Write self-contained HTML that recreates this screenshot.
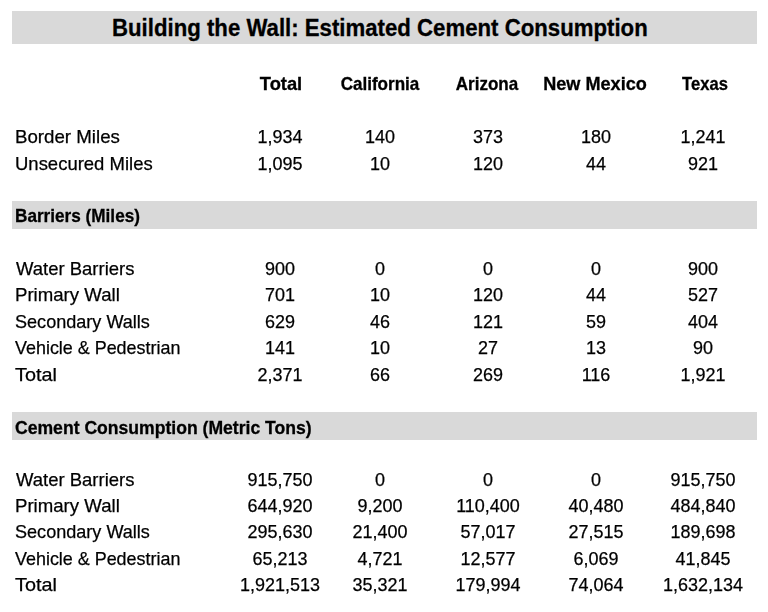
<!DOCTYPE html>
<html><head><meta charset="utf-8"><style>
html,body{margin:0;padding:0;background:#fff;width:768px;height:612px;overflow:hidden}
#w{position:absolute;left:0;top:0;width:768px;height:612px;filter:blur(0.45px)}
.t{-webkit-text-stroke:0.25px #000}
.b{-webkit-text-stroke:0.3px #000}
.bar{position:absolute;background:#d9d9d9}
.t{position:absolute;white-space:nowrap;line-height:0;font-family:"Liberation Sans",sans-serif;color:#000}
</style></head><body><div id="w">
<div class="bar" style="left:12px;top:11px;width:745px;height:33px"></div>
<div class="bar" style="left:12px;top:201px;width:745px;height:28px"></div>
<div class="bar" style="left:12px;top:412px;width:745px;height:28px"></div>
<div class="t b" style="left:111.97px;top:28.00px;font-size:23.5px;font-weight:bold;transform:scaleX(0.9447);transform-origin:0 0">Building the Wall: Estimated Cement Consumption</div>
<div class="t b" style="left:280.60px;top:84.00px;font-size:17.8px;font-weight:bold;transform:translateX(-50%) scaleX(1.0300);transform-origin:50% 0">Total</div>
<div class="t b" style="left:379.65px;top:84.00px;font-size:17.8px;font-weight:bold;transform:translateX(-50%) scaleX(0.9595);transform-origin:50% 0">California</div>
<div class="t b" style="left:486.98px;top:84.00px;font-size:17.8px;font-weight:bold;transform:translateX(-50%) scaleX(0.9577);transform-origin:50% 0">Arizona</div>
<div class="t b" style="left:594.95px;top:84.00px;font-size:17.8px;font-weight:bold;transform:translateX(-50%) scaleX(1.0180);transform-origin:50% 0">New Mexico</div>
<div class="t b" style="left:704.55px;top:84.00px;font-size:17.8px;font-weight:bold;transform:translateX(-50%) scaleX(0.9320);transform-origin:50% 0">Texas</div>
<div class="t" style="left:15.08px;top:137.00px;font-size:18.4px;transform:scaleX(1.0163);transform-origin:0 0">Border Miles</div>
<div class="t" style="left:279.64px;top:137.00px;font-size:18.4px;transform:translateX(-50%) scaleX(0.9775);transform-origin:50% 0">1,934</div>
<div class="t" style="left:380.19px;top:137.00px;font-size:18.4px;transform:translateX(-50%) scaleX(0.9775);transform-origin:50% 0">140</div>
<div class="t" style="left:487.98px;top:137.00px;font-size:18.4px;transform:translateX(-50%) scaleX(0.9775);transform-origin:50% 0">373</div>
<div class="t" style="left:595.73px;top:137.00px;font-size:18.4px;transform:translateX(-50%) scaleX(0.9775);transform-origin:50% 0">180</div>
<div class="t" style="left:703.12px;top:137.00px;font-size:18.4px;transform:translateX(-50%) scaleX(0.9775);transform-origin:50% 0">1,241</div>
<div class="t" style="left:14.79px;top:164.00px;font-size:18.4px;transform:scaleX(1.0052);transform-origin:0 0">Unsecured Miles</div>
<div class="t" style="left:279.64px;top:164.00px;font-size:18.4px;transform:translateX(-50%) scaleX(0.9775);transform-origin:50% 0">1,095</div>
<div class="t" style="left:380.19px;top:164.00px;font-size:18.4px;transform:translateX(-50%) scaleX(0.9775);transform-origin:50% 0">10</div>
<div class="t" style="left:487.98px;top:164.00px;font-size:18.4px;transform:translateX(-50%) scaleX(0.9775);transform-origin:50% 0">120</div>
<div class="t" style="left:595.73px;top:164.00px;font-size:18.4px;transform:translateX(-50%) scaleX(0.9775);transform-origin:50% 0">44</div>
<div class="t" style="left:703.12px;top:164.00px;font-size:18.4px;transform:translateX(-50%) scaleX(0.9775);transform-origin:50% 0">921</div>
<div class="t" style="left:15.75px;top:269.00px;font-size:18.4px;transform:scaleX(1.0047);transform-origin:0 0">Water Barriers</div>
<div class="t" style="left:279.64px;top:269.00px;font-size:18.4px;transform:translateX(-50%) scaleX(0.9775);transform-origin:50% 0">900</div>
<div class="t" style="left:380.19px;top:269.00px;font-size:18.4px;transform:translateX(-50%) scaleX(0.9775);transform-origin:50% 0">0</div>
<div class="t" style="left:487.98px;top:269.00px;font-size:18.4px;transform:translateX(-50%) scaleX(0.9775);transform-origin:50% 0">0</div>
<div class="t" style="left:595.73px;top:269.00px;font-size:18.4px;transform:translateX(-50%) scaleX(0.9775);transform-origin:50% 0">0</div>
<div class="t" style="left:703.12px;top:269.00px;font-size:18.4px;transform:translateX(-50%) scaleX(0.9775);transform-origin:50% 0">900</div>
<div class="t" style="left:14.98px;top:295.00px;font-size:18.4px;transform:scaleX(1.0119);transform-origin:0 0">Primary Wall</div>
<div class="t" style="left:279.64px;top:295.00px;font-size:18.4px;transform:translateX(-50%) scaleX(0.9775);transform-origin:50% 0">701</div>
<div class="t" style="left:380.19px;top:295.00px;font-size:18.4px;transform:translateX(-50%) scaleX(0.9775);transform-origin:50% 0">10</div>
<div class="t" style="left:487.98px;top:295.00px;font-size:18.4px;transform:translateX(-50%) scaleX(0.9775);transform-origin:50% 0">120</div>
<div class="t" style="left:595.73px;top:295.00px;font-size:18.4px;transform:translateX(-50%) scaleX(0.9775);transform-origin:50% 0">44</div>
<div class="t" style="left:703.12px;top:295.00px;font-size:18.4px;transform:translateX(-50%) scaleX(0.9775);transform-origin:50% 0">527</div>
<div class="t" style="left:14.81px;top:322.00px;font-size:18.4px;transform:scaleX(0.9824);transform-origin:0 0">Secondary Walls</div>
<div class="t" style="left:279.64px;top:322.00px;font-size:18.4px;transform:translateX(-50%) scaleX(0.9775);transform-origin:50% 0">629</div>
<div class="t" style="left:380.19px;top:322.00px;font-size:18.4px;transform:translateX(-50%) scaleX(0.9775);transform-origin:50% 0">46</div>
<div class="t" style="left:487.98px;top:322.00px;font-size:18.4px;transform:translateX(-50%) scaleX(0.9775);transform-origin:50% 0">121</div>
<div class="t" style="left:595.73px;top:322.00px;font-size:18.4px;transform:translateX(-50%) scaleX(0.9775);transform-origin:50% 0">59</div>
<div class="t" style="left:703.12px;top:322.00px;font-size:18.4px;transform:translateX(-50%) scaleX(0.9775);transform-origin:50% 0">404</div>
<div class="t" style="left:15.45px;top:348.00px;font-size:18.4px;transform:scaleX(0.9745);transform-origin:0 0">Vehicle &amp; Pedestrian</div>
<div class="t" style="left:279.64px;top:348.00px;font-size:18.4px;transform:translateX(-50%) scaleX(0.9775);transform-origin:50% 0">141</div>
<div class="t" style="left:380.19px;top:348.00px;font-size:18.4px;transform:translateX(-50%) scaleX(0.9775);transform-origin:50% 0">10</div>
<div class="t" style="left:487.98px;top:348.00px;font-size:18.4px;transform:translateX(-50%) scaleX(0.9775);transform-origin:50% 0">27</div>
<div class="t" style="left:595.73px;top:348.00px;font-size:18.4px;transform:translateX(-50%) scaleX(0.9775);transform-origin:50% 0">13</div>
<div class="t" style="left:703.12px;top:348.00px;font-size:18.4px;transform:translateX(-50%) scaleX(0.9775);transform-origin:50% 0">90</div>
<div class="t" style="left:14.88px;top:375.00px;font-size:18.4px;transform:scaleX(1.0773);transform-origin:0 0">Total</div>
<div class="t" style="left:279.64px;top:375.00px;font-size:18.4px;transform:translateX(-50%) scaleX(0.9775);transform-origin:50% 0">2,371</div>
<div class="t" style="left:380.19px;top:375.00px;font-size:18.4px;transform:translateX(-50%) scaleX(0.9775);transform-origin:50% 0">66</div>
<div class="t" style="left:487.98px;top:375.00px;font-size:18.4px;transform:translateX(-50%) scaleX(0.9775);transform-origin:50% 0">269</div>
<div class="t" style="left:595.73px;top:375.00px;font-size:18.4px;transform:translateX(-50%) scaleX(0.9775);transform-origin:50% 0">116</div>
<div class="t" style="left:703.12px;top:375.00px;font-size:18.4px;transform:translateX(-50%) scaleX(0.9775);transform-origin:50% 0">1,921</div>
<div class="t" style="left:15.75px;top:480.00px;font-size:18.4px;transform:scaleX(1.0047);transform-origin:0 0">Water Barriers</div>
<div class="t" style="left:279.64px;top:480.00px;font-size:18.4px;transform:translateX(-50%) scaleX(0.9775);transform-origin:50% 0">915,750</div>
<div class="t" style="left:380.19px;top:480.00px;font-size:18.4px;transform:translateX(-50%) scaleX(0.9775);transform-origin:50% 0">0</div>
<div class="t" style="left:487.98px;top:480.00px;font-size:18.4px;transform:translateX(-50%) scaleX(0.9775);transform-origin:50% 0">0</div>
<div class="t" style="left:595.73px;top:480.00px;font-size:18.4px;transform:translateX(-50%) scaleX(0.9775);transform-origin:50% 0">0</div>
<div class="t" style="left:703.12px;top:480.00px;font-size:18.4px;transform:translateX(-50%) scaleX(0.9775);transform-origin:50% 0">915,750</div>
<div class="t" style="left:14.98px;top:506.00px;font-size:18.4px;transform:scaleX(1.0119);transform-origin:0 0">Primary Wall</div>
<div class="t" style="left:279.64px;top:506.00px;font-size:18.4px;transform:translateX(-50%) scaleX(0.9775);transform-origin:50% 0">644,920</div>
<div class="t" style="left:380.19px;top:506.00px;font-size:18.4px;transform:translateX(-50%) scaleX(0.9775);transform-origin:50% 0">9,200</div>
<div class="t" style="left:487.98px;top:506.00px;font-size:18.4px;transform:translateX(-50%) scaleX(0.9775);transform-origin:50% 0">110,400</div>
<div class="t" style="left:595.73px;top:506.00px;font-size:18.4px;transform:translateX(-50%) scaleX(0.9775);transform-origin:50% 0">40,480</div>
<div class="t" style="left:703.12px;top:506.00px;font-size:18.4px;transform:translateX(-50%) scaleX(0.9775);transform-origin:50% 0">484,840</div>
<div class="t" style="left:14.81px;top:532.00px;font-size:18.4px;transform:scaleX(0.9824);transform-origin:0 0">Secondary Walls</div>
<div class="t" style="left:279.64px;top:532.00px;font-size:18.4px;transform:translateX(-50%) scaleX(0.9775);transform-origin:50% 0">295,630</div>
<div class="t" style="left:380.19px;top:532.00px;font-size:18.4px;transform:translateX(-50%) scaleX(0.9775);transform-origin:50% 0">21,400</div>
<div class="t" style="left:487.98px;top:532.00px;font-size:18.4px;transform:translateX(-50%) scaleX(0.9775);transform-origin:50% 0">57,017</div>
<div class="t" style="left:595.73px;top:532.00px;font-size:18.4px;transform:translateX(-50%) scaleX(0.9775);transform-origin:50% 0">27,515</div>
<div class="t" style="left:703.12px;top:532.00px;font-size:18.4px;transform:translateX(-50%) scaleX(0.9775);transform-origin:50% 0">189,698</div>
<div class="t" style="left:15.45px;top:559.00px;font-size:18.4px;transform:scaleX(0.9745);transform-origin:0 0">Vehicle &amp; Pedestrian</div>
<div class="t" style="left:279.64px;top:559.00px;font-size:18.4px;transform:translateX(-50%) scaleX(0.9775);transform-origin:50% 0">65,213</div>
<div class="t" style="left:380.19px;top:559.00px;font-size:18.4px;transform:translateX(-50%) scaleX(0.9775);transform-origin:50% 0">4,721</div>
<div class="t" style="left:487.98px;top:559.00px;font-size:18.4px;transform:translateX(-50%) scaleX(0.9775);transform-origin:50% 0">12,577</div>
<div class="t" style="left:595.73px;top:559.00px;font-size:18.4px;transform:translateX(-50%) scaleX(0.9775);transform-origin:50% 0">6,069</div>
<div class="t" style="left:703.12px;top:559.00px;font-size:18.4px;transform:translateX(-50%) scaleX(0.9775);transform-origin:50% 0">41,845</div>
<div class="t" style="left:14.88px;top:585.00px;font-size:18.4px;transform:scaleX(1.0773);transform-origin:0 0">Total</div>
<div class="t" style="left:279.64px;top:585.00px;font-size:18.4px;transform:translateX(-50%) scaleX(0.9775);transform-origin:50% 0">1,921,513</div>
<div class="t" style="left:380.19px;top:585.00px;font-size:18.4px;transform:translateX(-50%) scaleX(0.9775);transform-origin:50% 0">35,321</div>
<div class="t" style="left:487.98px;top:585.00px;font-size:18.4px;transform:translateX(-50%) scaleX(0.9775);transform-origin:50% 0">179,994</div>
<div class="t" style="left:595.73px;top:585.00px;font-size:18.4px;transform:translateX(-50%) scaleX(0.9775);transform-origin:50% 0">74,064</div>
<div class="t" style="left:703.12px;top:585.00px;font-size:18.4px;transform:translateX(-50%) scaleX(0.9775);transform-origin:50% 0">1,632,134</div>
<div class="t b" style="left:15.35px;top:216.00px;font-size:18.2px;font-weight:bold;transform:scaleX(0.9434);transform-origin:0 0">Barriers (Miles)</div>
<div class="t b" style="left:15.07px;top:428.00px;font-size:18.2px;font-weight:bold;transform:scaleX(0.9669);transform-origin:0 0">Cement Consumption (Metric Tons)</div>
</div></body></html>
